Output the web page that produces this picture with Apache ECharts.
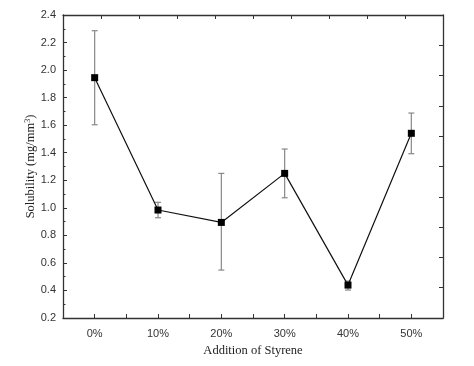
<!DOCTYPE html>
<html>
<head>
<meta charset="utf-8">
<script src="https://cdn.jsdelivr.net/npm/echarts@6/dist/echarts.min.js"></script>
<style>html,body{margin:0;padding:0;background:#fff}#c{width:474px;height:366px}</style>
</head>
<body>
<div id="c"></div>
<script>
const categories = ['0%', '10%', '20%', '30%', '40%', '50%'];
const solubility = [1.945, 0.984, 0.894, 1.25, 0.439, 1.541];
const errLow = [1.603, 0.928, 0.548, 1.073, 0.403, 1.393];
const errHigh = [2.286, 1.04, 1.25, 1.427, 0.468, 1.688];
const yTicks = [0.2, 2.4, 0.2]; // min, max, step

const lineData = solubility.map((v, i) => [i, v]);
const errData = solubility.map((v, i) => [i, errLow[i], errHigh[i]]);

const chart = echarts.init(document.getElementById('c'), null, {renderer: 'canvas'});
const axisColor = '#333';
const labelFont = {fontFamily: 'Liberation Sans', fontSize: 11, color: '#333'};
chart.setOption({
  animation: false,
  backgroundColor: '#fff',
  grid: {left: 63, right: 31, top: 15, bottom: 48, containLabel: false},
  xAxis: [{
    type: 'value', position: 'bottom', min: -0.5, max: 5.5, interval: 0.5,
    splitLine: {show: false},
    axisLine: {show: true, onZero: false, lineStyle: {color: axisColor, width: 1.3}},
    axisTick: {show: true, inside: true, length: 4, lineStyle: {color: axisColor}},
    axisLabel: Object.assign({margin: 10, showMinLabel: false, showMaxLabel: false,
      formatter: v => (Math.abs(v - Math.round(v)) < 1e-6 && categories[Math.round(v)] !== undefined) ? categories[Math.round(v)] : ''}, labelFont),
    name: 'Addition of Styrene', nameLocation: 'middle', nameGap: 26, nameMoveOverlap: false,
    nameTextStyle: {fontFamily: 'Liberation Serif', fontSize: 12.5, color: '#222'}
  }, {
    type: 'value', position: 'top', min: 0, max: 10, interval: 1,
    splitLine: {show: false},
    axisLine: {show: true, onZero: false, lineStyle: {color: axisColor, width: 1.3}},
    axisTick: {show: true, inside: true, length: 4, lineStyle: {color: axisColor}},
    axisLabel: {show: false}
  }],
  yAxis: [{
    type: 'value', position: 'left', min: yTicks[0], max: yTicks[1], interval: yTicks[2],
    splitLine: {show: false},
    axisLine: {show: true, onZero: false, lineStyle: {color: axisColor, width: 1.3}},
    axisTick: {show: true, inside: true, length: 4, lineStyle: {color: axisColor}},
    minorTick: {show: true, splitNumber: 2, length: 2.5, lineStyle: {color: axisColor}},
    axisLabel: Object.assign({margin: 7, formatter: v => v.toFixed(1)}, labelFont),
    name: 'Solubility (mg/mm{sup|3})', nameLocation: 'middle', nameGap: 25, nameMoveOverlap: false,
    nameTextStyle: {fontFamily: 'Liberation Serif', fontSize: 12.5, color: '#222',
      rich: {sup: {fontFamily: 'Liberation Serif', fontSize: 8, color: '#222', verticalAlign: 'top', padding: [0, 0, 6, 0]}}}
  }, {
    type: 'value', position: 'right', min: 0, max: 10, interval: 1,
    splitLine: {show: false},
    axisLine: {show: true, onZero: false, lineStyle: {color: axisColor, width: 1.3}},
    axisTick: {show: true, inside: true, length: 4, lineStyle: {color: axisColor}},
    axisLabel: {show: false}
  }],
  series: [{
    type: 'custom', xAxisIndex: 0, yAxisIndex: 0, z: 1,
    data: errData,
    renderItem: function (params, api) {
      const x = api.value(0);
      const lo = api.coord([x, api.value(1)]);
      const hi = api.coord([x, api.value(2)]);
      const hw = 3;
      const style = {stroke: '#888', lineWidth: 1.2};
      return {type: 'group', children: [
        {type: 'line', shape: {x1: lo[0], y1: lo[1], x2: hi[0], y2: hi[1]}, style},
        {type: 'line', shape: {x1: lo[0] - hw, y1: lo[1], x2: lo[0] + hw, y2: lo[1]}, style},
        {type: 'line', shape: {x1: hi[0] - hw, y1: hi[1], x2: hi[0] + hw, y2: hi[1]}, style}
      ]};
    }
  }, {
    type: 'line', xAxisIndex: 0, yAxisIndex: 0, z: 3,
    data: lineData,
    symbol: 'rect', symbolSize: 7,
    lineStyle: {color: '#111', width: 1.2},
    itemStyle: {color: '#000'}
  }]
});
</script>
</body>
</html>
